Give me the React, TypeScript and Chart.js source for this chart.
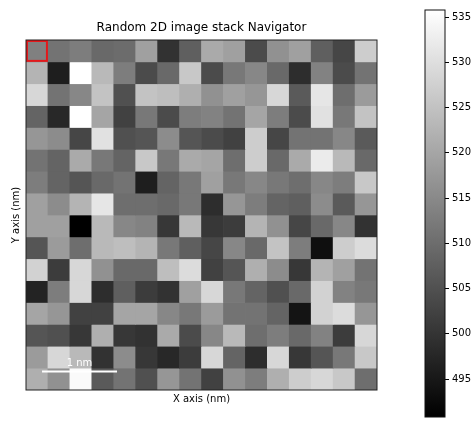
import React, { useEffect, useRef } from "react";
import { Chart, registerables } from "chart.js";

Chart.register(...registerables);

const chartTitle = "Random 2D image stack Navigator";
const xAxisLabel = "X axis (nm)";
const yAxisLabel = "Y axis (nm)";
const scaleBarLabel = "1 nm";

const columnCategories = ["0", "1", "2", "3", "4", "5", "6", "7", "8", "9", "10", "11", "12", "13", "14", "15"];

const colorMin = 490.8;
const colorMax = 535.8;
const colorbarTicks = [495, 500, 505, 510, 515, 520, 525, 530, 535];

const row00 = [513.4, 511.1, 512.9, 509.3, 509.9, 519.0, 499.6, 507.6, 520.8, 519.0, 504.0, 516.4, 519.0, 507.6, 503.2, 527.0];
const row01 = [522.6, 496.1, 535.8, 523.5, 512.9, 504.0, 509.3, 526.1, 504.0, 512.0, 514.6, 509.3, 498.7, 513.7, 504.0, 511.1];
const row02 = [528.7, 511.1, 514.6, 525.2, 504.9, 525.2, 524.3, 521.7, 516.4, 519.0, 517.3, 528.7, 506.7, 531.4, 510.2, 518.2];
const row03 = [508.5, 497.9, 535.8, 519.9, 502.3, 512.0, 504.0, 512.9, 513.7, 511.1, 519.9, 512.9, 504.0, 530.5, 512.0, 525.2];
const row04 = [517.3, 515.5, 503.2, 530.5, 504.9, 505.8, 515.5, 505.8, 504.0, 502.3, 527.0, 503.2, 511.1, 511.1, 514.6, 506.7];
const row05 = [511.1, 508.5, 520.8, 512.0, 508.5, 526.1, 512.0, 520.8, 519.9, 510.2, 527.0, 509.3, 520.8, 532.3, 523.5, 509.3];
const row06 = [512.9, 508.5, 505.8, 509.3, 511.1, 496.1, 508.5, 512.0, 519.0, 512.0, 514.6, 512.0, 510.2, 514.6, 512.9, 526.1];
const row07 = [519.0, 515.5, 522.6, 531.4, 510.2, 510.2, 509.3, 512.0, 498.7, 517.3, 512.9, 508.5, 507.6, 515.5, 506.7, 517.3];
const row08 = [519.0, 519.0, 490.8, 523.5, 514.6, 513.7, 500.5, 523.5, 500.5, 501.4, 522.6, 516.4, 503.2, 509.3, 514.6, 499.6];
const row09 = [505.8, 518.2, 510.2, 523.5, 524.3, 522.6, 512.0, 507.6, 503.2, 514.6, 509.3, 525.2, 512.9, 493.4, 527.0, 529.6];
const row10 = [527.9, 501.4, 528.7, 516.4, 509.3, 509.3, 524.3, 529.6, 502.3, 505.8, 521.7, 515.5, 500.5, 522.6, 519.0, 511.1];
const row11 = [497.0, 512.9, 528.7, 498.7, 507.6, 501.4, 499.6, 519.0, 528.7, 512.0, 508.5, 504.9, 509.3, 527.9, 513.7, 512.0];
const row12 = [519.9, 517.3, 502.3, 502.3, 519.9, 519.9, 514.6, 512.0, 518.2, 511.1, 511.1, 508.5, 494.3, 527.9, 529.6, 517.3];
const row13 = [505.8, 504.9, 500.5, 521.7, 500.5, 499.6, 520.8, 504.0, 514.6, 523.5, 510.2, 512.9, 509.3, 513.7, 501.4, 528.7];
const row14 = [518.2, 528.7, 523.5, 499.6, 515.5, 500.5, 497.9, 501.4, 528.7, 508.5, 498.7, 528.7, 500.5, 505.8, 512.0, 526.1];
const row15 = [521.7, 516.4, 534.9, 506.7, 511.1, 504.9, 517.3, 511.1, 502.3, 516.4, 512.9, 521.7, 527.0, 528.7, 526.1, 510.2];

const imageRows = [row00, row01, row02, row03, row04, row05, row06, row07, row08, row09, row10, row11, row12, row13, row14, row15];

// selected cell (navigator marker) and scale bar, in data units
const selectedCell = { col: 0, row: 0 };
const scaleBar = { start: 0.23, end: 3.65, y: 15.15, labelY: 14.8 };

const FONT = "'DejaVu Sans', sans-serif";

function grayOf(v: number): string {
  let t = (v - colorMin) / (colorMax - colorMin);
  t = Math.max(0, Math.min(1, t));
  const g = Math.round(t * 255);
  return `rgb(${g},${g},${g})`;
}

const overlayPlugin = {
  id: "overlay",
  afterDatasetsDraw(chart: any) {
    const { ctx, chartArea, scales } = chart;
    const xs = scales.x;
    const ys = scales.y;
    ctx.save();
    // selected cell marker
    const x0 = xs.getPixelForValue(selectedCell.col - 0.5);
    const x1 = xs.getPixelForValue(selectedCell.col + 0.5);
    const y0 = ys.getPixelForValue(selectedCell.row);
    const y1 = ys.getPixelForValue(selectedCell.row + 1);
    ctx.strokeStyle = "#e3191c";
    ctx.lineWidth = 2;
    ctx.strokeRect(Math.min(x0, x1) + 1, Math.min(y0, y1) + 1, Math.abs(x1 - x0) - 2, Math.abs(y1 - y0) - 2);
    // scale bar
    const sx0 = xs.getPixelForValue(scaleBar.start);
    const sx1 = xs.getPixelForValue(scaleBar.end);
    const sy = ys.getPixelForValue(scaleBar.y);
    ctx.strokeStyle = "#ffffff";
    ctx.lineWidth = 2;
    ctx.beginPath();
    ctx.moveTo(sx0, sy);
    ctx.lineTo(sx1, sy);
    ctx.stroke();
    ctx.fillStyle = "#ffffff";
    ctx.font = `10px ${FONT}`;
    ctx.textAlign = "center";
    ctx.textBaseline = "middle";
    ctx.fillText(scaleBarLabel, (sx0 + sx1) / 2, ys.getPixelForValue(scaleBar.labelY));
    // frame
    ctx.strokeStyle = "#222";
    ctx.lineWidth = 1;
    ctx.strokeRect(chartArea.left, chartArea.top, chartArea.right - chartArea.left, chartArea.bottom - chartArea.top);
    // title
    ctx.fillStyle = "#000";
    ctx.font = `12px ${FONT}`;
    ctx.textAlign = "center";
    ctx.textBaseline = "middle";
    ctx.fillText(chartTitle, (chartArea.left + chartArea.right) / 2, 28);
    ctx.restore();
  },
};

const cbFramePlugin = {
  id: "cbframe",
  afterDatasetsDraw(chart: any) {
    const { ctx, chartArea } = chart;
    ctx.save();
    ctx.strokeStyle = "#111";
    ctx.lineWidth = 1;
    ctx.strokeRect(chartArea.left, chartArea.top, chartArea.right - chartArea.left, chartArea.bottom - chartArea.top);
    ctx.restore();
  },
};

export default function App() {
  const mainRef = useRef<HTMLCanvasElement>(null);
  const cbRef = useRef<HTMLCanvasElement>(null);

  useEffect(() => {
    Chart.defaults.font.family = FONT;
    Chart.defaults.color = "#000";

    const datasets = imageRows.map((row, r) => ({
      label: `row ${r}`,
      data: row.map(() => [r, r + 1]),
      backgroundColor: row.map((v) => grayOf(v)),
      borderWidth: 0,
      barPercentage: 1,
      categoryPercentage: 1,
      grouped: false,
    }));

    const main = new Chart(mainRef.current!, {
      type: "bar",
      data: { labels: columnCategories, datasets: datasets as any },
      options: {
        animation: false,
        responsive: false,
        devicePixelRatio: 1,
        layout: { padding: { left: 10, right: 26, top: 40, bottom: 25 } },
        plugins: { legend: { display: false }, tooltip: { enabled: false }, title: { display: false } },
        scales: {
          x: {
            type: "category",
            offset: true,
            ticks: { display: false },
            grid: { display: false, drawTicks: false },
            border: { display: false },
            title: { display: true, text: xAxisLabel, font: { size: 10, family: FONT }, color: "#000", padding: { top: 3, bottom: 0 } },
          },
          y: {
            type: "linear",
            min: 0,
            max: 16,
            reverse: true,
            ticks: { display: false },
            grid: { display: false, drawTicks: false },
            border: { display: false },
            title: { display: true, text: yAxisLabel, font: { size: 10, family: FONT }, color: "#000", padding: { top: 0, bottom: 4 } },
          },
        },
      },
      plugins: [overlayPlugin],
    });

    const cb = new Chart(cbRef.current!, {
      type: "bar",
      data: {
        labels: ["colorbar"],
        datasets: [
          {
            data: [[colorMin, colorMax]] as any,
            backgroundColor: (ctx: any) => {
              const ca = ctx.chart.chartArea;
              if (!ca) return "#888";
              const g = ctx.chart.ctx.createLinearGradient(0, ca.bottom, 0, ca.top);
              g.addColorStop(0, "#000");
              g.addColorStop(1, "#fff");
              return g;
            },
            borderWidth: 0,
            barPercentage: 1,
            categoryPercentage: 1,
            inflateAmount: 0,
          },
        ],
      },
      options: {
        animation: false,
        responsive: false,
        devicePixelRatio: 1,
        layout: { padding: { left: 10, right: 3, top: 10, bottom: 13 } },
        plugins: { legend: { display: false }, tooltip: { enabled: false } },
        scales: {
          x: { display: false, offset: true },
          y: {
            type: "linear",
            position: "right",
            min: colorMin,
            max: colorMax,
            afterBuildTicks: (scale: any) => {
              scale.ticks = colorbarTicks.map((v) => ({ value: v }));
            },
            afterFit: (scale: any) => {
              scale.width = 26;
            },
            ticks: { font: { size: 10, family: FONT }, color: "#000", padding: 3 },
            grid: { display: true, drawOnChartArea: false, drawTicks: true, tickLength: 4, color: "#000", lineWidth: 1 },
            border: { display: false },
          },
        },
      },
      plugins: [cbFramePlugin],
    });

    return () => {
      main.destroy();
      cb.destroy();
    };
  }, []);

  return (
    <div style={{ position: "fixed", left: 0, top: 0, width: 474, height: 430, background: "#fff" }}>
      <canvas ref={mainRef} width={403} height={430} style={{ position: "absolute", left: 0, top: 0, width: 403, height: 430 }} />
      <canvas ref={cbRef} width={59} height={430} style={{ position: "absolute", left: 415, top: 0, width: 59, height: 430 }} />
    </div>
  );
}
